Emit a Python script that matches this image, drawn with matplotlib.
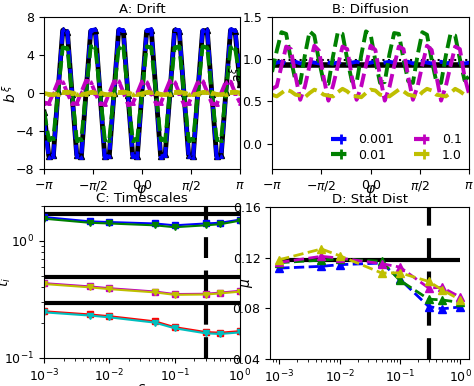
import numpy as np
import matplotlib
matplotlib.use('Agg')
import matplotlib.pyplot as plt
from matplotlib.lines import Line2D

# ---- data ----
phi = np.linspace(-np.pi, np.pi, 43)

# A: drift, one list per noise level (plus the exact drift in black)
b_exact = [-2.0,
           -6.6, -6.5, 0.2, 6.6, 6.4, -0.1,
           -6.5, -6.6, 0.1, 6.5, 6.6, 0.0,
           -6.6, -6.5, 0.0, 6.6, 6.5, -0.2,
           -6.5, -6.6, 0.1, 6.5, 6.6, 0.1,
           -6.6, -6.4, 0.0, 6.6, 6.5, 0.0,
           -6.5, -6.6, 0.2, 6.5, 6.6, -0.1,
           -6.6, -6.5, 0.1, 6.6, 6.5, 1.0]
b_001 = [-3.0,
         -6.7, -6.6, 0.1, 6.7, 6.5, 0.0,
         -6.6, -6.7, 0.0, 6.6, 6.7, 0.1,
         -6.7, -6.6, 0.1, 6.7, 6.6, -0.1,
         -6.6, -6.7, 0.0, 6.6, 6.7, 0.0,
         -6.7, -6.5, 0.1, 6.7, 6.6, 0.1,
         -6.6, -6.7, 0.1, 6.6, 6.7, 0.0,
         -6.7, -6.6, 0.0, 6.7, 6.6, 2.0]
b_01 = [-2.0,
        -4.8, -4.7, 0.1, 4.8, 4.7, 0.0,
        -4.9, -4.8, 0.0, 4.9, 4.8, 0.1,
        -4.8, -4.9, 0.1, 4.8, 4.9, -0.1,
        -4.9, -4.8, 0.0, 4.9, 4.8, 0.0,
        -4.8, -4.9, 0.1, 4.8, 4.9, 0.1,
        -4.9, -4.8, 0.0, 4.9, 4.8, 0.0,
        -4.8, -4.9, 0.1, 4.8, 4.7, 1.5]
b_1 = [-1.0, -1.1, 0.0, 1.2, 1.2, 0.0,
       -1.1, -1.1, 0.1, 1.3, 1.2, 0.0,
       -1.1, -1.2, 0.0, 1.2, 1.3, 0.1,
       -1.2, -1.1, 0.0, 1.2, 1.2, 0.0,
       -1.1, -1.1, 0.1, 1.3, 1.2, 0.0,
       -1.2, -1.1, 0.0, 1.2, 1.3, 0.1,
       -1.1, -1.2, 0.0, 1.2, 1.2, 0.0,
       -1.0]
b_10 = [0.0, -0.1, -0.15, -0.05, 0.1, 0.15,
        0.05, -0.1, -0.15, -0.05, 0.1, 0.15,
        0.05, -0.1, -0.15, -0.05, 0.1, 0.15,
        0.05, -0.1, -0.15, -0.05, 0.1, 0.15,
        0.05, -0.1, -0.15, -0.05, 0.1, 0.15,
        0.05, -0.1, -0.15, -0.05, 0.1, 0.15,
        0.05, -0.1, -0.15, -0.05, 0.1, 0.15,
        0.05]

# B: diffusion
a_exact = 0.93
a_mean = 0.985
a_001 = [0.95, 0.96, 0.97, 0.95, 0.96, 0.97, 0.95, 0.96, 0.97, 0.96, 0.95,
         0.97, 0.96, 0.95, 0.96, 0.97, 0.95, 0.96, 0.97, 0.96, 0.95, 0.96,
         0.97, 0.95, 0.96, 0.97, 0.96, 0.95, 0.96, 0.97, 0.95, 0.96, 0.97,
         0.96, 0.95, 0.96, 0.97, 0.95, 0.96, 0.97, 0.96, 0.95, 0.96]
a_01 = [0.85, 1.10, 1.32, 1.30, 1.00, 0.74,
        0.72, 1.05, 1.33, 1.28, 0.98, 0.73,
        0.71, 1.04, 1.32, 1.30, 1.00, 0.74,
        0.72, 1.05, 1.33, 1.29, 0.98, 0.72,
        0.73, 1.06, 1.31, 1.30, 1.00, 0.74,
        0.72, 1.05, 1.32, 1.29, 0.99, 0.73,
        0.72, 1.04, 1.30, 1.28, 1.00, 0.75,
        0.80]
a_1 = [0.65, 0.68, 0.92, 1.15, 1.12, 0.80,
       0.52, 0.68, 0.93, 1.16, 1.10, 0.78,
       0.51, 0.69, 0.92, 1.15, 1.12, 0.79,
       0.52, 0.68, 0.93, 1.16, 1.11, 0.80,
       0.51, 0.67, 0.92, 1.15, 1.12, 0.79,
       0.52, 0.68, 0.93, 1.16, 1.11, 0.80,
       0.51, 0.68, 0.92, 1.15, 1.12, 0.79,
       0.58]
a_10 = [0.58, 0.56, 0.60, 0.64, 0.62, 0.58,
        0.57, 0.55, 0.60, 0.64, 0.62, 0.58,
        0.57, 0.56, 0.61, 0.65, 0.62, 0.57,
        0.56, 0.55, 0.60, 0.64, 0.63, 0.58,
        0.57, 0.56, 0.60, 0.64, 0.62, 0.58,
        0.57, 0.55, 0.61, 0.65, 0.63, 0.58,
        0.57, 0.56, 0.60, 0.65, 0.62, 0.58,
        0.59]

# C / D: against s
s = [0.001, 0.005, 0.01, 0.05, 0.1, 0.3, 0.5, 1.0]
s_mark = 0.3

t_true = [1.70, 0.49, 0.295]
t1_blue = [1.60, 1.47, 1.45, 1.41, 1.36, 1.41, 1.43, 1.52]
t1_green = [1.55, 1.43, 1.41, 1.36, 1.31, 1.36, 1.39, 1.49]
t2_mag = [0.435, 0.408, 0.394, 0.369, 0.351, 0.353, 0.361, 0.374]
t2_yel = [0.428, 0.401, 0.387, 0.363, 0.346, 0.348, 0.356, 0.368]
t3_red = [0.250, 0.235, 0.227, 0.205, 0.183, 0.166, 0.164, 0.169]
t3_cyan = [0.245, 0.230, 0.222, 0.200, 0.179, 0.162, 0.160, 0.165]

mu_true = 0.118
mu_001 = [0.1117, 0.1131, 0.1144, 0.1157, 0.103, 0.0814, 0.0796, 0.081]
mu_01 = [0.116, 0.118, 0.119, 0.117, 0.102, 0.0872, 0.0866, 0.0846]
mu_1 = [0.1162, 0.121, 0.1196, 0.1152, 0.1125, 0.096, 0.0965, 0.0888]
mu_10 = [0.1183, 0.1268, 0.1215, 0.1078, 0.108, 0.1012, 0.0946, 0.0867]

labels = ['0.001', '0.01', '0.1', '1.0']
colors = ['b', 'g', 'm', 'y']

plt.rcParams['font.size'] = 9
plt.rcParams['axes.titlesize'] = 9.5
plt.rcParams['axes.labelsize'] = 10

fig = plt.figure(figsize=(4.74, 3.86), dpi=100)
axA = fig.add_axes([0.093, 0.562, 0.413, 0.394])
axB = fig.add_axes([0.574, 0.562, 0.416, 0.394])
axC = fig.add_axes([0.093, 0.073, 0.413, 0.394])
axD = fig.add_axes([0.570, 0.070, 0.420, 0.394])

pi_ticks = [-np.pi, -np.pi / 2, 0, np.pi / 2, np.pi]
pi_labels = [r'$-\pi$', r'$-\pi/2$', '0.0', r'$\pi/2$', r'$\pi$']
dash = (0, (3.5, 1.4))

# A: Drift
axA.plot(phi, b_exact, 'k-', lw=3.5, marker='^', ms=4)
for vals, c in zip([b_001, b_01, b_1, b_10], colors):
    axA.plot(phi, vals, color=c, ls=dash, lw=2.8, marker='^', ms=2.5)
axA.set_xlim(-np.pi, np.pi)
axA.set_ylim(-8, 8)
axA.set_yticks([-8, -4, 0, 4, 8])
axA.set_xticks(pi_ticks)
axA.set_xticklabels(pi_labels)
axA.set_xlabel(r'$\varphi$', labelpad=-7)
axA.set_ylabel(r'$b^{\,\xi}$')
axA.yaxis.set_label_coords(-0.13, 0.5)
axA.set_title('A: Drift', pad=3)

# B: Diffusion
axB.axhline(a_exact, color='k', lw=4)
axB.axhline(a_mean, color='k', lw=1.5, ls=':')
for vals, c in zip([a_001, a_01, a_1, a_10], colors):
    axB.plot(phi, vals, color=c, ls=dash, lw=2.8)
axB.set_xlim(-np.pi, np.pi)
axB.set_ylim(-0.3, 1.5)
axB.set_yticks([0.0, 0.5, 1.0, 1.5])
axB.set_xticks(pi_ticks)
axB.set_xticklabels(pi_labels)
axB.set_xlabel(r'$\varphi$', labelpad=-7)
axB.set_ylabel(r'$a^{\xi}$')
axB.yaxis.set_label_coords(-0.135, 0.62)
axB.set_title('B: Diffusion', pad=3)
handles = [Line2D([], [], color=c, ls='--', lw=3, marker='|', ms=7, mew=2)
           for c in colors]
axB.legend(handles, labels, loc='lower right', ncol=2, frameon=False,
           fontsize=9, handlelength=1.6, columnspacing=1.6,
           borderaxespad=0.2, labelspacing=0.2, handletextpad=0.6)

# C: Timescales
for t in t_true:
    axC.axhline(t, color='k', lw=3)
axC.axvline(s_mark, color='k', lw=3, ls=(0, (5, 3)))
axC.plot(s, t1_blue, 'b-', marker='s', ms=5, lw=1.5)
axC.plot(s, t1_green, 'g-', marker='v', ms=5, lw=1.5)
axC.plot(s, t2_mag, 'm-', marker='s', ms=5, lw=1.5)
axC.plot(s, t2_yel, 'y-', marker='v', ms=5, lw=1.5)
axC.plot(s, t3_red, 'r-', marker='s', ms=5, lw=1.5)
axC.plot(s, t3_cyan, 'c-', marker='v', ms=5, lw=1.5)
axC.set_xscale('log')
axC.set_yscale('log')
axC.set_xlim(1e-3, 1)
axC.set_ylim(0.1, 2.0)
axC.set_xlabel(r'$s$', labelpad=-2)
axC.set_ylabel(r'$t_i$')
axC.yaxis.set_label_coords(-0.16, 0.5)
axC.set_title('C: Timescales', pad=3)

# D: Stat Dist
axD.hlines(mu_true, s[0], s[-1], color='k', lw=3)
axD.axvline(s_mark, color='k', lw=3, ls=(0, (5, 3)))
for vals, c in zip([mu_001, mu_01, mu_1, mu_10], colors):
    axD.plot(s, vals, color=c, ls='--', lw=2, marker='^', ms=6)
axD.set_xscale('log')
axD.set_ylim(0.04, 0.16)
axD.set_yticks([0.04, 0.08, 0.12, 0.16])
axD.set_xlabel(r'$s$', labelpad=-2)
axD.set_ylabel(r'$\mu$')
axD.yaxis.set_label_coords(-0.075, 0.5)
axD.set_title('D: Stat Dist', pad=3)

fig.savefig('out.png', dpi=100)
